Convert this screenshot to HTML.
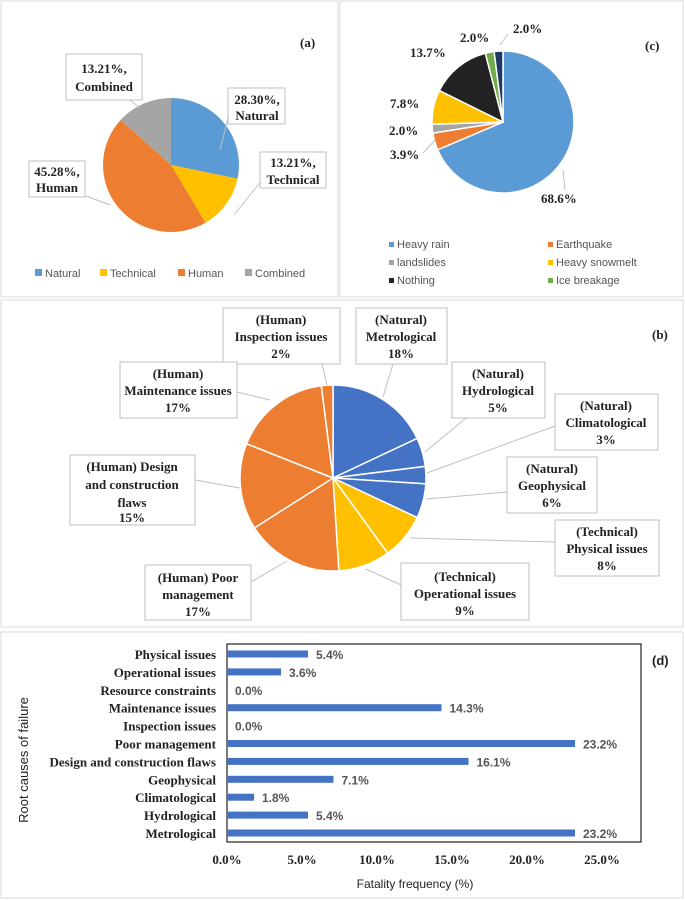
<!DOCTYPE html>
<html><head><meta charset="utf-8"><style>
body{margin:0;background:#fff;width:685px;height:900px;overflow:hidden;font-family:"Liberation Serif",serif}
svg{display:block}
.lbl{font-family:"Liberation Serif",serif;font-weight:bold;font-size:13px;fill:#222}
.leg{font-family:"Liberation Sans",sans-serif;font-size:11px;fill:#555}
.box{fill:#fff;stroke:#bfbfbf;stroke-width:1}
.ld{stroke:#bfbfbf;stroke-width:1;fill:none}
</style></head><body>
<svg id="root" width="685" height="900" viewBox="0 0 685 900">
<rect x="1" y="1" width="337" height="296" fill="#fff" stroke="#d9d9d9"/>
<rect x="340" y="1" width="343" height="296" fill="#fff" stroke="#d9d9d9"/>
<rect x="1" y="300" width="682" height="327" fill="#fff" stroke="#d9d9d9"/>
<rect x="1" y="632" width="682" height="266" fill="#fff" stroke="#d9d9d9"/>

<g id="pa"></g>
<g>
<text x="300" y="47" class="lbl" font-size="15">(a)</text>
<line class="ld" x1="140" y1="108" x2="130" y2="100"/>
<rect class="box" x="66" y="54" width="76" height="46"/>
<text class="lbl" x="104" y="73" text-anchor="middle">13.21%,</text>
<text class="lbl" x="104" y="91" text-anchor="middle">Combined</text>
<line class="ld" x1="220" y1="150" x2="228" y2="118"/>
<rect class="box" x="228" y="88" width="57" height="36"/>
<text class="lbl" x="257" y="104" text-anchor="middle">28.30%,</text>
<text class="lbl" x="257" y="120" text-anchor="middle">Natural</text>
<line class="ld" x1="234" y1="215" x2="262" y2="180"/>
<rect class="box" x="260" y="152" width="66" height="36"/>
<text class="lbl" x="293" y="167" text-anchor="middle">13.21%,</text>
<text class="lbl" x="293" y="184" text-anchor="middle">Technical</text>
<line class="ld" x1="110" y1="205" x2="86" y2="196"/>
<rect class="box" x="29" y="161" width="56" height="36"/>
<text class="lbl" x="57" y="176" text-anchor="middle">45.28%,</text>
<text class="lbl" x="57" y="192" text-anchor="middle">Human</text>
</g>
<g id="lega"></g>

<g id="pc"></g>
<g>
<text x="645" y="50" class="lbl" font-size="15">(c)</text>
<text class="lbl" x="541" y="203">68.6%</text>
<line class="ld" x1="563" y1="170" x2="565" y2="190"/>
<text class="lbl" x="390" y="159">3.9%</text>
<line class="ld" x1="423" y1="153" x2="435" y2="140"/>
<text class="lbl" x="389" y="135">2.0%</text>
<text class="lbl" x="390" y="108">7.8%</text>
<text class="lbl" x="410" y="57">13.7%</text>
<text class="lbl" x="460" y="42">2.0%</text>
<text class="lbl" x="513" y="33">2.0%</text>
<line class="ld" x1="500" y1="45" x2="508" y2="34"/>
</g>
<g id="legc"></g>

<g id="pb"></g>
<g>
<text x="652" y="339" class="lbl" font-size="15">(b)</text>
<polyline class="ld" points="327,385 322,364"/>
<rect class="box" x="223" y="308" width="117" height="56"/>
<text class="lbl" x="281" y="324" text-anchor="middle">(Human)</text><text class="lbl" x="281" y="341" text-anchor="middle">Inspection issues</text><text class="lbl" x="281" y="358" text-anchor="middle">2%</text>
<polyline class="ld" points="383,397 393,364"/>
<rect class="box" x="356" y="308" width="91" height="56"/>
<text class="lbl" x="401" y="324" text-anchor="middle">(Natural)</text><text class="lbl" x="401" y="341" text-anchor="middle">Metrological</text><text class="lbl" x="401" y="358" text-anchor="middle">18%</text>
<polyline class="ld" points="425,452 466,418"/>
<rect class="box" x="452" y="362" width="93" height="56"/>
<text class="lbl" x="498" y="378" text-anchor="middle">(Natural)</text><text class="lbl" x="498" y="395" text-anchor="middle">Hydrological</text><text class="lbl" x="498" y="412" text-anchor="middle">5%</text>
<polyline class="ld" points="427,473 555,426"/>
<rect class="box" x="555" y="394" width="103" height="56"/>
<text class="lbl" x="606" y="410" text-anchor="middle">(Natural)</text><text class="lbl" x="606" y="427" text-anchor="middle">Climatological</text><text class="lbl" x="606" y="444" text-anchor="middle">3%</text>
<polyline class="ld" points="426,499 507,492"/>
<rect class="box" x="507" y="457" width="90" height="56"/>
<text class="lbl" x="552" y="473" text-anchor="middle">(Natural)</text><text class="lbl" x="552" y="490" text-anchor="middle">Geophysical</text><text class="lbl" x="552" y="507" text-anchor="middle">6%</text>
<polyline class="ld" points="410,538 555,542"/>
<rect class="box" x="555" y="520" width="104" height="56"/>
<text class="lbl" x="607" y="536" text-anchor="middle">(Technical)</text><text class="lbl" x="607" y="553" text-anchor="middle">Physical issues</text><text class="lbl" x="607" y="570" text-anchor="middle">8%</text>
<polyline class="ld" points="366,569 401,585"/>
<rect class="box" x="401" y="563" width="128" height="57"/>
<text class="lbl" x="465" y="581" text-anchor="middle">(Technical)</text><text class="lbl" x="465" y="598" text-anchor="middle">Operational issues</text><text class="lbl" x="465" y="615" text-anchor="middle">9%</text>
<polyline class="ld" points="270,400 237,392"/>
<rect class="box" x="120" y="362" width="117" height="56"/>
<text class="lbl" x="178" y="378" text-anchor="middle">(Human)</text><text class="lbl" x="178" y="395" text-anchor="middle">Maintenance issues</text><text class="lbl" x="178" y="412" text-anchor="middle">17%</text>
<polyline class="ld" points="240,488 195,480"/>
<rect class="box" x="70" y="455" width="125" height="70"/>
<text class="lbl" x="132" y="471" text-anchor="middle">(Human)  Design</text><text class="lbl" x="132" y="489" text-anchor="middle">and construction</text><text class="lbl" x="132" y="507" text-anchor="middle">flaws</text><text class="lbl" x="132" y="522" text-anchor="middle">15%</text>
<polyline class="ld" points="287,561 251,582"/>
<rect class="box" x="145" y="565" width="106" height="55"/>
<text class="lbl" x="198" y="582" text-anchor="middle">(Human)  Poor</text><text class="lbl" x="198" y="599" text-anchor="middle">management</text><text class="lbl" x="198" y="616" text-anchor="middle">17%</text>
</g>

<g id="bars"></g>
<text x="652" y="665" class="lbl" font-size="15" style="font-family:'Liberation Sans',sans-serif">(d)</text>
<text x="0" y="0" transform="translate(28,760) rotate(-90)" text-anchor="middle" style="font-family:'Liberation Sans',sans-serif;font-size:13px" fill="#222">Root causes of failure</text>
<text x="415" y="888" text-anchor="middle" style="font-family:'Liberation Sans',sans-serif;font-size:12px" fill="#222">Fatality frequency (%)</text>
</svg>
<script>
const NS="http://www.w3.org/2000/svg";
const aCats=["Natural","Technical","Human","Combined"];
const aVals=[28.30,13.21,45.28,13.21];
const aCols=["#5b9bd5","#ffc000","#ed7d31","#a5a5a5"];
const cCats=["Heavy rain","Earthquake","landslides","Heavy snowmelt","Nothing","Ice breakage","Other"];
const cVals=[68.6,3.9,2.0,7.8,13.7,2.0,2.0];
const cCols=["#5b9bd5","#ed7d31","#a5a5a5","#ffc000","#222222","#70ad47","#1f3864"];
const bCats=["Metrological","Hydrological","Climatological","Geophysical","Physical issues","Operational issues","Poor management","Design and construction flaws","Maintenance issues","Inspection issues"];
const bVals=[18,5,3,6,8,9,17,15,17,2];
const bCols=["#4472c4","#4472c4","#4472c4","#4472c4","#ffc000","#ffc000","#ed7d31","#ed7d31","#ed7d31","#ed7d31"];
const dCats=["Physical issues","Operational issues","Resource constraints","Maintenance issues","Inspection issues","Poor management","Design and construction flaws","Geophysical","Climatological","Hydrological","Metrological"];
const dVals=[5.4,3.6,0.0,14.3,0.0,23.2,16.1,7.1,1.8,5.4,23.2];
const dTicks=[0,5,10,15,20,25];

function mk(tag,attrs,parent){const e=document.createElementNS(NS,tag);for(const k in attrs)e.setAttribute(k,attrs[k]);parent.appendChild(e);return e;}
function pie(g,vals,cols,cx,cy,rx,ry,name,stroke){
  const tot=vals.reduce((a,b)=>a+b,0);let a0=-Math.PI/2;
  vals.forEach((v,i)=>{
    const a1=a0+v/tot*2*Math.PI;
    const x0=cx+rx*Math.cos(a0),y0=cy+ry*Math.sin(a0),x1=cx+rx*Math.cos(a1),y1=cy+ry*Math.sin(a1);
    const p=mk("path",{d:`M${cx},${cy}L${x0},${y0}A${rx},${ry} 0 ${a1-a0>Math.PI?1:0} 1 ${x1},${y1}Z`,fill:cols[i],stroke:stroke,"stroke-width":stroke=="none"?0:1.5},g);
    
    
    a0=a1;
  });
}
pie(document.getElementById("pa"),aVals,aCols,171,165,68,67,"pie-a","none");
pie(document.getElementById("pc"),cVals,cCols,503,122,71,71,"pie-c","#fff");
pie(document.getElementById("pb"),bVals,bCols,333,478,93,93,"pie-b","#fff");

const la=document.getElementById("lega");
const laX=[35,100,178,245];
aCats.forEach((c,i)=>{
  const r=mk("rect",{x:laX[i],y:269,width:7,height:7,fill:aCols[i]},la);
  
  
  const t=mk("text",{x:laX[i]+10,y:277,class:"leg"},la);t.textContent=c;
  
  
});
const lc=document.getElementById("legc");
cCats.slice(0,6).forEach((c,i)=>{
  const x=i%2==0?389:548,y=248+Math.floor(i/2)*18;
  const r=mk("rect",{x:x,y:y-6,width:5,height:5,fill:cCols[i]},lc);
  
  
  const t=mk("text",{x:x+8,y:y,class:"leg"},lc);t.textContent=c;
  
  
});

const bg=document.getElementById("bars");
const px0=227,px1=641,py0=644,py1=842,xs=v=>px0+v*15;
const rowY=i=>654+i*17.9;
const fr=mk("rect",{x:px0,y:py0,width:px1-px0,height:py1-py0,fill:"none",stroke:"#222","stroke-width":1.2},bg);


dCats.forEach((c,i)=>{
  const y=rowY(i);
  const b=mk("rect",{x:px0,y:y-3.5,width:xs(dVals[i])-px0,height:7,fill:"#4472c4"},bg);
  
  
  const t=mk("text",{x:px0-11,y:y+5,"text-anchor":"end",class:"lbl","font-size":"12.5"},bg);t.textContent=c;
  
  
  const v=mk("text",{x:xs(dVals[i])+8,y:y+5,style:"font-family:'Liberation Sans',sans-serif;font-size:12px;font-weight:bold",fill:"#555"},bg);v.textContent=dVals[i].toFixed(1)+"%";
  
  
});
dTicks.forEach(t=>{
  const e=mk("text",{x:xs(t),y:864,"text-anchor":"middle",class:"lbl","font-size":"12.5"},bg);e.textContent=t.toFixed(1)+"%";
  
  
});
</script>
</body></html>
